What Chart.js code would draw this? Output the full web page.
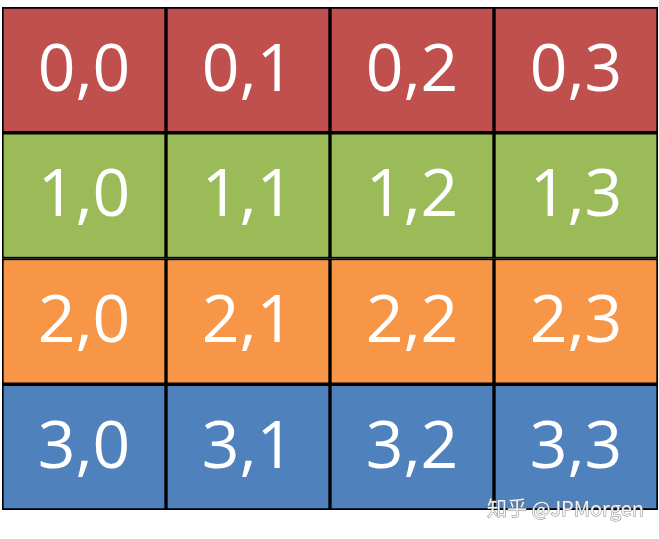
<!DOCTYPE html>
<html>
<head>
<meta charset="utf-8">
<script src="https://cdn.jsdelivr.net/npm/chart.js@4"></script>
<style>
  html, body { margin: 0; padding: 0; background: #fff; }
  #wrap { width: 659px; height: 539px; }
</style>
</head>
<body>
<div id="wrap"><canvas id="grid"></canvas></div>
<script>
// rows and columns of the grid
const rows = ["0", "1", "2", "3"];
const cols = ["0", "1", "2", "3"];
const rowColors = ["#C0504D", "#9BBB59", "#F79646", "#4F81BD"];
const cellWidth = [1, 1, 1, 1];
const watermark = "知乎 @JPMorgen";

// cell labels "r,c" drawn in the middle of every bar segment
const cellLabels = {
    id: "cellLabels",
    afterDatasetsDraw(chart) {
        const ctx = chart.ctx;
        ctx.save();
        ctx.fillStyle = "#ffffff";
        ctx.font = "66px 'Open Sans', Lato, sans-serif";
        ctx.textAlign = "center";
        ctx.textBaseline = "middle";
        chart.data.datasets.forEach((ds, c) => {
            chart.getDatasetMeta(c).data.forEach((bar, r) => {
                const cx = (bar.x + bar.base) / 2;
                ctx.fillText(rows[r] + "," + cols[c], cx, bar.y + 2);
            });
        });
        // watermark
        ctx.font = "20px 'Noto Sans CJK SC', sans-serif";
        ctx.textAlign = "left";
        ctx.fillStyle = "rgba(255,255,255,0.9)";
        ctx.strokeStyle = "rgba(120,120,120,0.9)";
        ctx.lineWidth = 1;
        ctx.strokeText(watermark, 487, 508);
        ctx.fillText(watermark, 487, 508);
        ctx.restore();
    },
};

new Chart(document.getElementById("grid"), {
    type: "bar",
    data: {
        labels: rows,
        datasets: cols.map((c) => ({
            label: c,
            data: cellWidth,
            backgroundColor: rowColors,
            borderColor: "#000000",
            borderWidth: 2,
            borderSkipped: false,
            barPercentage: 1,
            categoryPercentage: 1,
        })),
    },
    options: {
        indexAxis: "y",
        responsive: true,
        maintainAspectRatio: false,
        animation: false,
        layout: { padding: { left: 2, right: 1, top: 7, bottom: 29 } },
        scales: {
            x: { stacked: true, display: false, min: 0, max: 4 },
            y: { stacked: true, display: false },
        },
        plugins: { legend: { display: false }, tooltip: { enabled: false } },
    },
    plugins: [cellLabels],
});
</script>
</body>
</html>
